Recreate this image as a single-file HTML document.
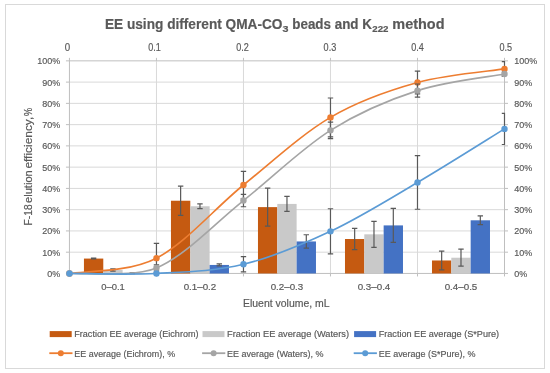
<!DOCTYPE html><html><head><meta charset="utf-8"><style>html,body{margin:0;padding:0;background:#fff;}svg{display:block;}text{font-family:"Liberation Sans",sans-serif;stroke:#595959;stroke-width:0.18px;}svg{will-change:transform;}</style></head><body>
<svg width="550" height="373" viewBox="0 0 550 373">
<rect x="0" y="0" width="550" height="373" fill="#fff"/>
<rect x="5.5" y="4.5" width="539" height="364" fill="none" stroke="#d9d9d9" stroke-width="1"/>
<line x1="69.45" y1="252.19" x2="504.50" y2="252.19" stroke="#d9d9d9" stroke-width="1"/>
<line x1="69.45" y1="230.93" x2="504.50" y2="230.93" stroke="#d9d9d9" stroke-width="1"/>
<line x1="69.45" y1="209.67" x2="504.50" y2="209.67" stroke="#d9d9d9" stroke-width="1"/>
<line x1="69.45" y1="188.41" x2="504.50" y2="188.41" stroke="#d9d9d9" stroke-width="1"/>
<line x1="69.45" y1="167.15" x2="504.50" y2="167.15" stroke="#d9d9d9" stroke-width="1"/>
<line x1="69.45" y1="145.89" x2="504.50" y2="145.89" stroke="#d9d9d9" stroke-width="1"/>
<line x1="69.45" y1="124.63" x2="504.50" y2="124.63" stroke="#d9d9d9" stroke-width="1"/>
<line x1="69.45" y1="103.37" x2="504.50" y2="103.37" stroke="#d9d9d9" stroke-width="1"/>
<line x1="69.45" y1="82.11" x2="504.50" y2="82.11" stroke="#d9d9d9" stroke-width="1"/>
<line x1="69.45" y1="60.85" x2="504.50" y2="60.85" stroke="#bfbfbf" stroke-width="1"/>
<line x1="156.46" y1="60.85" x2="156.46" y2="273.45" stroke="#d9d9d9" stroke-width="1"/>
<line x1="156.46" y1="57.85" x2="156.46" y2="60.85" stroke="#bfbfbf" stroke-width="1"/>
<line x1="156.46" y1="273.45" x2="156.46" y2="276.45" stroke="#bfbfbf" stroke-width="1"/>
<line x1="243.47" y1="60.85" x2="243.47" y2="273.45" stroke="#d9d9d9" stroke-width="1"/>
<line x1="243.47" y1="57.85" x2="243.47" y2="60.85" stroke="#bfbfbf" stroke-width="1"/>
<line x1="243.47" y1="273.45" x2="243.47" y2="276.45" stroke="#bfbfbf" stroke-width="1"/>
<line x1="330.48" y1="60.85" x2="330.48" y2="273.45" stroke="#d9d9d9" stroke-width="1"/>
<line x1="330.48" y1="57.85" x2="330.48" y2="60.85" stroke="#bfbfbf" stroke-width="1"/>
<line x1="330.48" y1="273.45" x2="330.48" y2="276.45" stroke="#bfbfbf" stroke-width="1"/>
<line x1="417.49" y1="60.85" x2="417.49" y2="273.45" stroke="#d9d9d9" stroke-width="1"/>
<line x1="417.49" y1="57.85" x2="417.49" y2="60.85" stroke="#bfbfbf" stroke-width="1"/>
<line x1="417.49" y1="273.45" x2="417.49" y2="276.45" stroke="#bfbfbf" stroke-width="1"/>
<line x1="69.45" y1="57.85" x2="69.45" y2="276.45" stroke="#bfbfbf" stroke-width="1"/>
<line x1="504.50" y1="57.85" x2="504.50" y2="276.45" stroke="#bfbfbf" stroke-width="1"/>
<line x1="65.95" y1="273.45" x2="69.45" y2="273.45" stroke="#bfbfbf" stroke-width="1"/>
<line x1="504.50" y1="273.45" x2="508.00" y2="273.45" stroke="#bfbfbf" stroke-width="1"/>
<line x1="65.95" y1="252.19" x2="69.45" y2="252.19" stroke="#bfbfbf" stroke-width="1"/>
<line x1="504.50" y1="252.19" x2="508.00" y2="252.19" stroke="#bfbfbf" stroke-width="1"/>
<line x1="65.95" y1="230.93" x2="69.45" y2="230.93" stroke="#bfbfbf" stroke-width="1"/>
<line x1="504.50" y1="230.93" x2="508.00" y2="230.93" stroke="#bfbfbf" stroke-width="1"/>
<line x1="65.95" y1="209.67" x2="69.45" y2="209.67" stroke="#bfbfbf" stroke-width="1"/>
<line x1="504.50" y1="209.67" x2="508.00" y2="209.67" stroke="#bfbfbf" stroke-width="1"/>
<line x1="65.95" y1="188.41" x2="69.45" y2="188.41" stroke="#bfbfbf" stroke-width="1"/>
<line x1="504.50" y1="188.41" x2="508.00" y2="188.41" stroke="#bfbfbf" stroke-width="1"/>
<line x1="65.95" y1="167.15" x2="69.45" y2="167.15" stroke="#bfbfbf" stroke-width="1"/>
<line x1="504.50" y1="167.15" x2="508.00" y2="167.15" stroke="#bfbfbf" stroke-width="1"/>
<line x1="65.95" y1="145.89" x2="69.45" y2="145.89" stroke="#bfbfbf" stroke-width="1"/>
<line x1="504.50" y1="145.89" x2="508.00" y2="145.89" stroke="#bfbfbf" stroke-width="1"/>
<line x1="65.95" y1="124.63" x2="69.45" y2="124.63" stroke="#bfbfbf" stroke-width="1"/>
<line x1="504.50" y1="124.63" x2="508.00" y2="124.63" stroke="#bfbfbf" stroke-width="1"/>
<line x1="65.95" y1="103.37" x2="69.45" y2="103.37" stroke="#bfbfbf" stroke-width="1"/>
<line x1="504.50" y1="103.37" x2="508.00" y2="103.37" stroke="#bfbfbf" stroke-width="1"/>
<line x1="65.95" y1="82.11" x2="69.45" y2="82.11" stroke="#bfbfbf" stroke-width="1"/>
<line x1="504.50" y1="82.11" x2="508.00" y2="82.11" stroke="#bfbfbf" stroke-width="1"/>
<line x1="65.95" y1="60.85" x2="69.45" y2="60.85" stroke="#bfbfbf" stroke-width="1"/>
<line x1="504.50" y1="60.85" x2="508.00" y2="60.85" stroke="#bfbfbf" stroke-width="1"/>
<line x1="69.45" y1="273.45" x2="504.50" y2="273.45" stroke="#bfbfbf" stroke-width="1"/>
<rect x="83.95" y="258.57" width="19.33" height="14.88" fill="#c55a11"/>
<rect x="103.28" y="270.05" width="19.33" height="3.40" fill="#c9c9c9"/>
<rect x="122.62" y="273.24" width="19.33" height="0.21" fill="#4472c4"/>
<rect x="170.96" y="200.74" width="19.33" height="72.71" fill="#c55a11"/>
<rect x="190.29" y="206.27" width="19.33" height="67.18" fill="#c9c9c9"/>
<rect x="209.63" y="264.95" width="19.33" height="8.50" fill="#4472c4"/>
<rect x="257.97" y="207.12" width="19.33" height="66.33" fill="#c55a11"/>
<rect x="277.30" y="203.93" width="19.33" height="69.52" fill="#c9c9c9"/>
<rect x="296.64" y="241.45" width="19.33" height="32.00" fill="#4472c4"/>
<rect x="344.98" y="239.01" width="19.33" height="34.44" fill="#c55a11"/>
<rect x="364.31" y="234.33" width="19.33" height="39.12" fill="#c9c9c9"/>
<rect x="383.65" y="225.40" width="19.33" height="48.05" fill="#4472c4"/>
<rect x="431.99" y="260.48" width="19.33" height="12.97" fill="#c55a11"/>
<rect x="451.32" y="257.72" width="19.33" height="15.73" fill="#c9c9c9"/>
<rect x="470.66" y="220.30" width="19.33" height="53.15" fill="#4472c4"/>
<path d="M93.62 258.17V258.97M90.92 258.17H96.32M90.92 258.97H96.32" stroke="#595959" stroke-width="1.2" fill="none"/>
<path d="M112.95 268.95V271.15M110.25 268.95H115.65M110.25 271.15H115.65" stroke="#595959" stroke-width="1.2" fill="none"/>
<path d="M132.28 272.94V273.54M129.58 272.94H134.98M129.58 273.54H134.98" stroke="#595959" stroke-width="1.2" fill="none"/>
<path d="M180.63 186.04V215.44M177.93 186.04H183.33M177.93 215.44H183.33" stroke="#595959" stroke-width="1.2" fill="none"/>
<path d="M199.96 203.97V208.57M197.26 203.97H202.66M197.26 208.57H202.66" stroke="#595959" stroke-width="1.2" fill="none"/>
<path d="M219.29 263.95V265.95M216.59 263.95H221.99M216.59 265.95H221.99" stroke="#595959" stroke-width="1.2" fill="none"/>
<path d="M267.64 188.12V226.12M264.94 188.12H270.34M264.94 226.12H270.34" stroke="#595959" stroke-width="1.2" fill="none"/>
<path d="M286.97 196.43V211.43M284.27 196.43H289.67M284.27 211.43H289.67" stroke="#595959" stroke-width="1.2" fill="none"/>
<path d="M306.30 234.75V248.15M303.60 234.75H309.00M303.60 248.15H309.00" stroke="#595959" stroke-width="1.2" fill="none"/>
<path d="M354.65 228.31V249.71M351.95 228.31H357.35M351.95 249.71H357.35" stroke="#595959" stroke-width="1.2" fill="none"/>
<path d="M373.98 221.33V247.33M371.28 221.33H376.68M371.28 247.33H376.68" stroke="#595959" stroke-width="1.2" fill="none"/>
<path d="M393.31 208.40V242.40M390.61 208.40H396.01M390.61 242.40H396.01" stroke="#595959" stroke-width="1.2" fill="none"/>
<path d="M441.66 251.18V269.78M438.96 251.18H444.36M438.96 269.78H444.36" stroke="#595959" stroke-width="1.2" fill="none"/>
<path d="M460.99 249.22V266.22M458.29 249.22H463.69M458.29 266.22H463.69" stroke="#595959" stroke-width="1.2" fill="none"/>
<path d="M480.32 215.90V224.70M477.62 215.90H483.02M477.62 224.70H483.02" stroke="#595959" stroke-width="1.2" fill="none"/>
<path d="M69.45 273.45C83.95 270.90 127.46 272.88 156.46 258.14C185.46 243.40 214.47 208.47 243.47 185.01C272.47 161.55 301.48 134.48 330.48 117.40C359.48 100.32 388.49 90.61 417.49 82.54C446.49 74.46 490.00 71.20 504.50 68.93" stroke="#ed7d31" stroke-width="1.65" fill="none" stroke-linejoin="round"/>
<path d="M156.46 243.44V272.84M153.76 243.44H159.16M153.76 272.84H159.16" stroke="#595959" stroke-width="1.2" fill="none"/>
<path d="M243.47 171.31V198.71M240.77 171.31H246.17M240.77 198.71H246.17" stroke="#595959" stroke-width="1.2" fill="none"/>
<path d="M330.48 98.00V136.80M327.78 98.00H333.18M327.78 136.80H333.18" stroke="#595959" stroke-width="1.2" fill="none"/>
<path d="M417.49 71.14V93.94M414.79 71.14H420.19M414.79 93.94H420.19" stroke="#595959" stroke-width="1.2" fill="none"/>
<path d="M504.50 61.63V76.23M501.80 61.63H505.10M501.80 76.23H505.10" stroke="#595959" stroke-width="1.2" fill="none"/>
<circle cx="69.45" cy="273.45" r="3.2" fill="#ed7d31"/>
<circle cx="156.46" cy="258.14" r="3.2" fill="#ed7d31"/>
<circle cx="243.47" cy="185.01" r="3.2" fill="#ed7d31"/>
<circle cx="330.48" cy="117.40" r="3.2" fill="#ed7d31"/>
<circle cx="417.49" cy="82.54" r="3.2" fill="#ed7d31"/>
<circle cx="504.50" cy="68.93" r="3.2" fill="#ed7d31"/>
<path d="M69.45 273.45C83.95 272.53 133.25 277.65 156.46 267.92C185.46 255.77 214.47 223.45 243.47 200.53C272.47 177.60 301.48 148.69 330.48 130.37C359.48 112.05 388.49 100.00 417.49 90.61C446.49 81.22 490.00 76.80 504.50 74.03" stroke="#a5a5a5" stroke-width="1.65" fill="none" stroke-linejoin="round"/>
<path d="M156.46 264.92V270.92M153.76 264.92H159.16M153.76 270.92H159.16" stroke="#595959" stroke-width="1.2" fill="none"/>
<path d="M243.47 194.33V206.73M240.77 194.33H246.17M240.77 206.73H246.17" stroke="#595959" stroke-width="1.2" fill="none"/>
<path d="M330.48 122.17V138.57M327.78 122.17H333.18M327.78 138.57H333.18" stroke="#595959" stroke-width="1.2" fill="none"/>
<path d="M417.49 84.01V97.21M414.79 84.01H420.19M414.79 97.21H420.19" stroke="#595959" stroke-width="1.2" fill="none"/>
<path d="M504.50 72.03V76.03M501.80 72.03H505.10M501.80 76.03H505.10" stroke="#595959" stroke-width="1.2" fill="none"/>
<circle cx="69.45" cy="273.45" r="3.2" fill="#a5a5a5"/>
<circle cx="156.46" cy="267.92" r="3.2" fill="#a5a5a5"/>
<circle cx="243.47" cy="200.53" r="3.2" fill="#a5a5a5"/>
<circle cx="330.48" cy="130.37" r="3.2" fill="#a5a5a5"/>
<circle cx="417.49" cy="90.61" r="3.2" fill="#a5a5a5"/>
<circle cx="504.50" cy="74.03" r="3.2" fill="#a5a5a5"/>
<path d="M69.45 273.45C83.95 273.45 127.46 274.97 156.46 273.45C185.46 271.93 214.47 271.32 243.47 264.31C272.47 257.29 301.48 245.00 330.48 231.36C359.48 217.71 388.49 199.54 417.49 182.46C446.49 165.38 490.00 137.81 504.50 128.88" stroke="#5b9bd5" stroke-width="1.65" fill="none" stroke-linejoin="round"/>
<path d="M243.47 256.71V271.91M240.77 256.71H246.17M240.77 271.91H246.17" stroke="#595959" stroke-width="1.2" fill="none"/>
<path d="M330.48 208.76V253.96M327.78 208.76H333.18M327.78 253.96H333.18" stroke="#595959" stroke-width="1.2" fill="none"/>
<path d="M417.49 155.66V209.26M414.79 155.66H420.19M414.79 209.26H420.19" stroke="#595959" stroke-width="1.2" fill="none"/>
<path d="M504.50 113.28V144.48M501.80 113.28H505.10M501.80 144.48H505.10" stroke="#595959" stroke-width="1.2" fill="none"/>
<circle cx="69.45" cy="273.45" r="3.2" fill="#5b9bd5"/>
<circle cx="156.46" cy="273.45" r="3.2" fill="#5b9bd5"/>
<circle cx="243.47" cy="264.31" r="3.2" fill="#5b9bd5"/>
<circle cx="330.48" cy="231.36" r="3.2" fill="#5b9bd5"/>
<circle cx="417.49" cy="182.46" r="3.2" fill="#5b9bd5"/>
<circle cx="504.50" cy="128.88" r="3.2" fill="#5b9bd5"/>
<text x="60.3" y="276.95" font-size="9.8" fill="#595959" text-anchor="end" textLength="13.0" lengthAdjust="spacingAndGlyphs">0%</text>
<text x="514.3" y="276.95" font-size="9.8" fill="#595959" textLength="13.0" lengthAdjust="spacingAndGlyphs">0%</text>
<text x="60.3" y="255.69" font-size="9.8" fill="#595959" text-anchor="end" textLength="18.0" lengthAdjust="spacingAndGlyphs">10%</text>
<text x="514.3" y="255.69" font-size="9.8" fill="#595959" textLength="18.0" lengthAdjust="spacingAndGlyphs">10%</text>
<text x="60.3" y="234.43" font-size="9.8" fill="#595959" text-anchor="end" textLength="18.0" lengthAdjust="spacingAndGlyphs">20%</text>
<text x="514.3" y="234.43" font-size="9.8" fill="#595959" textLength="18.0" lengthAdjust="spacingAndGlyphs">20%</text>
<text x="60.3" y="213.17" font-size="9.8" fill="#595959" text-anchor="end" textLength="18.0" lengthAdjust="spacingAndGlyphs">30%</text>
<text x="514.3" y="213.17" font-size="9.8" fill="#595959" textLength="18.0" lengthAdjust="spacingAndGlyphs">30%</text>
<text x="60.3" y="191.91" font-size="9.8" fill="#595959" text-anchor="end" textLength="18.0" lengthAdjust="spacingAndGlyphs">40%</text>
<text x="514.3" y="191.91" font-size="9.8" fill="#595959" textLength="18.0" lengthAdjust="spacingAndGlyphs">40%</text>
<text x="60.3" y="170.65" font-size="9.8" fill="#595959" text-anchor="end" textLength="18.0" lengthAdjust="spacingAndGlyphs">50%</text>
<text x="514.3" y="170.65" font-size="9.8" fill="#595959" textLength="18.0" lengthAdjust="spacingAndGlyphs">50%</text>
<text x="60.3" y="149.39" font-size="9.8" fill="#595959" text-anchor="end" textLength="18.0" lengthAdjust="spacingAndGlyphs">60%</text>
<text x="514.3" y="149.39" font-size="9.8" fill="#595959" textLength="18.0" lengthAdjust="spacingAndGlyphs">60%</text>
<text x="60.3" y="128.13" font-size="9.8" fill="#595959" text-anchor="end" textLength="18.0" lengthAdjust="spacingAndGlyphs">70%</text>
<text x="514.3" y="128.13" font-size="9.8" fill="#595959" textLength="18.0" lengthAdjust="spacingAndGlyphs">70%</text>
<text x="60.3" y="106.87" font-size="9.8" fill="#595959" text-anchor="end" textLength="18.0" lengthAdjust="spacingAndGlyphs">80%</text>
<text x="514.3" y="106.87" font-size="9.8" fill="#595959" textLength="18.0" lengthAdjust="spacingAndGlyphs">80%</text>
<text x="60.3" y="85.61" font-size="9.8" fill="#595959" text-anchor="end" textLength="18.0" lengthAdjust="spacingAndGlyphs">90%</text>
<text x="514.3" y="85.61" font-size="9.8" fill="#595959" textLength="18.0" lengthAdjust="spacingAndGlyphs">90%</text>
<text x="60.3" y="64.35" font-size="9.8" fill="#595959" text-anchor="end" textLength="23.0" lengthAdjust="spacingAndGlyphs">100%</text>
<text x="514.3" y="64.35" font-size="9.8" fill="#595959" textLength="23.0" lengthAdjust="spacingAndGlyphs">100%</text>
<text x="64.70" y="50.8" font-size="10.2" fill="#595959" textLength="5.4" lengthAdjust="spacingAndGlyphs">0</text>
<text x="148.30" y="50.8" font-size="10.2" fill="#595959" textLength="12.6" lengthAdjust="spacingAndGlyphs">0.1</text>
<text x="236.30" y="50.8" font-size="10.2" fill="#595959" textLength="12.6" lengthAdjust="spacingAndGlyphs">0.2</text>
<text x="323.60" y="50.8" font-size="10.2" fill="#595959" textLength="12.6" lengthAdjust="spacingAndGlyphs">0.3</text>
<text x="411.30" y="50.8" font-size="10.2" fill="#595959" textLength="12.6" lengthAdjust="spacingAndGlyphs">0.4</text>
<text x="499.40" y="50.8" font-size="10.2" fill="#595959" textLength="12.6" lengthAdjust="spacingAndGlyphs">0.5</text>
<text x="101.16" y="290.2" font-size="9.6" fill="#595959" textLength="23.6" lengthAdjust="spacingAndGlyphs">0–0.1</text>
<text x="183.67" y="290.2" font-size="9.6" fill="#595959" textLength="32.6" lengthAdjust="spacingAndGlyphs">0.1–0.2</text>
<text x="270.68" y="290.2" font-size="9.6" fill="#595959" textLength="32.6" lengthAdjust="spacingAndGlyphs">0.2–0.3</text>
<text x="357.69" y="290.2" font-size="9.6" fill="#595959" textLength="32.6" lengthAdjust="spacingAndGlyphs">0.3–0.4</text>
<text x="444.69" y="290.2" font-size="9.6" fill="#595959" textLength="32.6" lengthAdjust="spacingAndGlyphs">0.4–0.5</text>
<text x="243" y="307" font-size="10.4" fill="#595959" textLength="86.6" lengthAdjust="spacingAndGlyphs">Eluent volume, mL</text>
<g transform="translate(31.8 0) rotate(-90)" font-size="10.4" fill="#595959">
<text x="-225.40" y="0" textLength="21.10" lengthAdjust="spacingAndGlyphs">F-18</text>
<text x="-202.90" y="0" textLength="32.60" lengthAdjust="spacingAndGlyphs">elution</text>
<text x="-168.60" y="0" textLength="51.80" lengthAdjust="spacingAndGlyphs">efficiency,</text>
<text x="-115.90" y="0" textLength="8.20" lengthAdjust="spacingAndGlyphs">%</text>
</g>
<g font-size="14" font-weight="bold" fill="#595959" style="stroke-width:0">
<text x="104.9" y="28.9" textLength="177.6" lengthAdjust="spacingAndGlyphs">EE using different QMA-CO</text>
<text x="282.4" y="31.9" font-size="9.2" textLength="6" lengthAdjust="spacingAndGlyphs">3</text>
<text x="292.3" y="28.9" textLength="79.6" lengthAdjust="spacingAndGlyphs">beads and K</text>
<text x="372.3" y="31.9" font-size="9.2" textLength="16.2" lengthAdjust="spacingAndGlyphs">222</text>
<text x="392.3" y="28.9" textLength="52.2" lengthAdjust="spacingAndGlyphs">method</text>
</g>
<rect x="49.70" y="331.1" width="22" height="6" fill="#c55a11"/>
<text x="74.30" y="337.2" font-size="9.0" fill="#595959" textLength="124.2" lengthAdjust="spacingAndGlyphs">Fraction EE average (Eichrom)</text>
<line x1="49.30" y1="353.2" x2="72.50" y2="353.2" stroke="#ed7d31" stroke-width="1.8"/>
<circle cx="60.80" cy="353.2" r="3.0" fill="#ed7d31"/>
<text x="74.30" y="356.6" font-size="9.0" fill="#595959" textLength="100.8" lengthAdjust="spacingAndGlyphs">EE average (Eichrom), %</text>
<rect x="202.50" y="331.1" width="22" height="6" fill="#c9c9c9"/>
<text x="227.10" y="337.2" font-size="9.0" fill="#595959" textLength="121.9" lengthAdjust="spacingAndGlyphs">Fraction EE average (Waters)</text>
<line x1="202.10" y1="353.2" x2="225.30" y2="353.2" stroke="#a5a5a5" stroke-width="1.8"/>
<circle cx="213.60" cy="353.2" r="3.0" fill="#a5a5a5"/>
<text x="227.10" y="356.6" font-size="9.0" fill="#595959" textLength="96.4" lengthAdjust="spacingAndGlyphs">EE average (Waters), %</text>
<rect x="354.10" y="331.1" width="22" height="6" fill="#4472c4"/>
<text x="378.70" y="337.2" font-size="9.0" fill="#595959" textLength="120.4" lengthAdjust="spacingAndGlyphs">Fraction EE average (S*Pure)</text>
<line x1="353.70" y1="353.2" x2="376.90" y2="353.2" stroke="#5b9bd5" stroke-width="1.8"/>
<circle cx="365.20" cy="353.2" r="3.0" fill="#5b9bd5"/>
<text x="378.70" y="356.6" font-size="9.0" fill="#595959" textLength="96.7" lengthAdjust="spacingAndGlyphs">EE average (S*Pure), %</text>
</svg></body></html>
